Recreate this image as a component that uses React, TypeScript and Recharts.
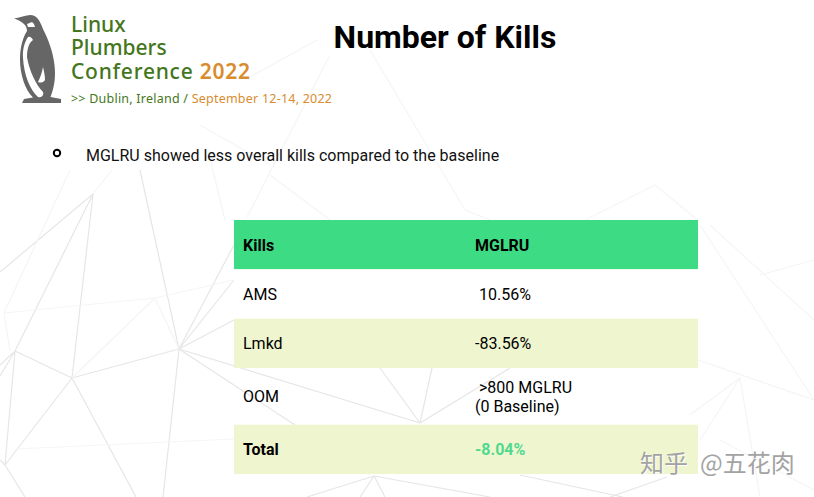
import { Bar, BarChart, XAxis, YAxis } from "recharts"

const W = 814
const H = 497

const rowNames = ["Kills", "AMS", "Lmkd", "OOM", "Total"]
const mglruValues = ["MGLRU", " 10.56%", "-83.56%", " >800 MGLRU\n(0 Baseline)", "-8.04%"]
const rowFills = ["#3ddc84", "#ffffff", "#eff6cf", "none", "#eff6cf"]
const boldRows = ["Kills", "Total"]

// one unit of the y axis is one pixel, a row grows with its number of text lines
const rowSize = (value: string) => 49.4 + 7.4 * (value.split("\n").length - 1)

const tableData = [
  Object.fromEntries([["row", "table"], ...rowNames.map((name, i) => [name, rowSize(mglruValues[i])])]),
]
const tableTotal = mglruValues.reduce((sum, v) => sum + rowSize(v), 0)

// background mesh of the slide template
const meshStrong = [
  "M93 194L0 272", "M93 194L15 351", "M93 194L72 378", "M15 351L72 378", "M72 378L179 349",
  "M179 349L140 170", "M179 349L234 320", "M179 349L295 425", "M179 349L163 497", "M72 378L136 497",
  "M72 378L5 465", "M15 351L5 465", "M15 351L0 365", "M15 351L0 376", "M5 465L0 460", "M5 465L25 497",
  "M179 349L234 245", "M179 349L420 423", "M420 423L432 368", "M420 423L510 368", "M420 423L380 368",
  "M374 476L307 497", "M374 476L360 497", "M374 476L385 497", "M374 476L490 497",
  "M520 475L623 497", "M667 477L610 497", "M234 280L179 349",
]
const meshFaint = [
  "M93 194L112 170", "M4 313L155 298", "M155 298L234 280", "M155 298L179 349", "M155 298L72 378",
  "M4 313L70 170", "M15 449L234 439", "M4 313L10 351", "M250 77L317 40", "M330 55L247 217", "M370 50L465 210",
  "M465 210L490 220", "M200 125L270 165", "M655 185L585 220", "M655 185L700 222", "M698 360L814 400",
  "M700 225L814 400", "M760 275L814 260", "M710 225L814 320", "M740 378L690 415", "M740 378L760 497",
  "M700 440L740 378", "M720 440L814 490", "M270 175L330 220", "M208 150L225 220",
]

const Background = () => (
  <svg width={W} height={H} style={{ position: "absolute", left: 0, top: 0 }}>
    <rect width={W} height={H} fill="#ffffff" />
    {meshStrong.map((d) => (
      <path key={d} d={d} stroke="#e6e6e6" strokeWidth={1.2} fill="none" />
    ))}
    {meshFaint.map((d) => (
      <path key={d} d={d} stroke="#f5f5f5" strokeWidth={1.2} fill="none" />
    ))}
  </svg>
)

const Row = (props: any) => {
  const { x, y, width, height, name, index } = props
  const top = Math.min(y, y + height)
  const mid = top + Math.abs(height) / 2
  const bold = boldRows.includes(name)
  const lines = mglruValues[index].split("\n")
  const first = mid + 6 - ((lines.length - 1) * 18.5) / 2
  const weight = bold || index === 0 ? 700 : 400
  return (
    <g fontFamily="Roboto" fontSize={16} fill="#000000">
      <rect x={x} y={top} width={width} height={Math.abs(height)} fill={rowFills[index]} />
      <text x={x + 9} y={mid + 6} fontWeight={weight}>
        {name}
      </text>
      {lines.map((line: string, i: number) => (
        <text
          key={line}
          x={x + 241}
          y={first + i * 18.5}
          fontWeight={weight}
          fill={name === "Total" ? "#4fd98e" : "#000000"}
          style={{ whiteSpace: "pre" }}
        >
          {line}
        </text>
      ))}
    </g>
  )
}

const Header = () => (
  <svg width={W} height={H} style={{ position: "absolute", left: 0, top: 0 }}>
    <path
      d="M14 18.5C19 17.5 24 16 30 15C37 15 40 21 43 29C49 41 53 52 54.5 65C56 78 54 88 50.5 97L61 99L61 103L22 103L24 99L33 97.5C25 90 20 74 20 60C20 47 23 37 27 31C27 26 24 22 14 18.5Z"
      fill="#666666"
    />
    <path d="M28 37C24 43 22.5 50 23 58C24 75 30 90 38 97C42 98 44 95 43 92C36 85 29 70 27 57C27 47 30 42 33 40C32 38 30 36 28 37Z" fill="#ffffff" />
    <path d="M43 67C42 73 40 78 38 82C40 83 43 83 45 80C45 76 44 71 43 67Z" fill="#ffffff" />
    <path d="M27 24L32 22L34 24L35 27L28 27Z" fill="#ffffff" />

    <g fontFamily="'Noto Sans'" fontSize={21} fontWeight={500} fill="#44761c">
      <text x={71} y={32}>Linux</text>
      <text x={71} y={55}>Plumbers</text>
      <text x={71} y={79} textLength={179}>
        Conference <tspan fill="#d98c2f" fontWeight={600}>2022</tspan>
      </text>
    </g>
    <text x={71} y={103} fontFamily="'Noto Sans'" fontSize={12.5} fill="#44761c" textLength={261}>
      {">> Dublin, Ireland / "}
      <tspan fill="#d98c2f">September 12-14, 2022</tspan>
    </text>

    <text x={445} y={48} textAnchor="middle" fontFamily="Roboto" fontSize={32} fontWeight={700} fill="#000000">
      Number of Kills
    </text>
    <circle cx={57} cy={153} r={3.2} fill="none" stroke="#000000" strokeWidth={2} />
    <text x={86} y={161} fontFamily="Roboto" fontSize={16} fill="#111111">
      MGLRU showed less overall kills compared to the baseline
    </text>
  </svg>
)

const Watermark = () => (
  <svg width={W} height={H} style={{ position: "absolute", left: 0, top: 0 }}>
    <g fontFamily="'Noto Sans CJK SC'" fontSize={24}>
      <text x={641} y={473} fill="#ffffff">知乎</text>
      <text x={640} y={472} fill="#a3a3a3">知乎</text>
      <text x={701} y={473} fill="#ffffff">@五花肉</text>
      <text x={700} y={472} fill="#a3a3a3">@五花肉</text>
    </g>
  </svg>
)

export default function App() {
  return (
    <div style={{ position: "absolute", left: 0, top: 0, width: W, height: H, overflow: "hidden" }}>
      <Background />
      <div style={{ position: "absolute", left: 0, top: 0 }}>
        <BarChart
          width={W}
          height={H}
          data={tableData}
          margin={{ top: 220, left: 234, right: 116, bottom: 23 }}
          barCategoryGap={0}
        >
          <XAxis dataKey="row" type="category" hide />
          <YAxis type="number" domain={[0, tableTotal]} reversed hide />
          {rowNames.map((name, i) => (
            <Bar
              key={name}
              dataKey={name}
              stackId="rows"
              isAnimationActive={false}
              shape={(p: any) => <Row {...p} name={name} index={i} />}
            />
          ))}
        </BarChart>
      </div>
      <Header />
      <Watermark />
    </div>
  )
}
